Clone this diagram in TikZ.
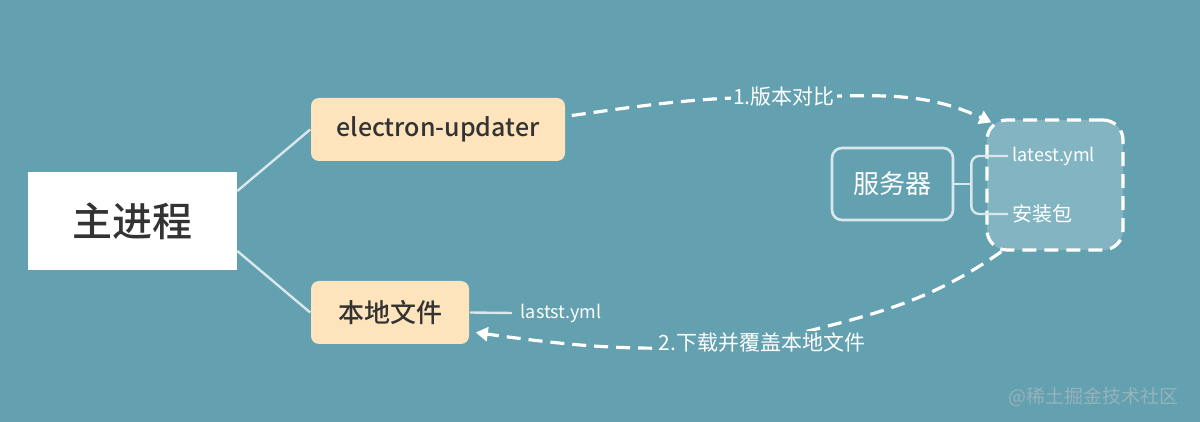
\documentclass[tikz,border=0pt]{standalone}
\usepackage{fontspec}
\setmainfont{Noto Sans CJK SC}
\newfontfamily\medium{Noto Sans CJK SC Medium}
\usetikzlibrary{arrows.meta}
\definecolor{bg}{RGB}{99,160,176}
\definecolor{peach}{RGB}{253,228,189}
\definecolor{ink}{RGB}{51,51,51}
\definecolor{pale}{RGB}{218,232,238}
\definecolor{boxfill}{RGB}{130,180,194}
\definecolor{mark}{RGB}{150,178,188}
\begin{document}
\begin{tikzpicture}[x=0.5pt, y=-0.5pt, thick,
    leaf/.style={rectangle, rounded corners=4pt, fill=peach, minimum height=31.5pt, text=ink},
    tag/.style={text=white, inner sep=2pt, anchor=west, font=\fontsize{9}{11}\selectfont},
    link/.style={draw=pale, line width=1.2pt},
    flow/.style={draw=white, line width=1.6pt, dash pattern=on 7pt off 4pt},
    step1/.style={text=white, fill=bg, inner sep=1pt, font=\fontsize{10.5}{12}\selectfont}]
  \fill[bg] (0,0) rectangle (1200,422);
  \useasboundingbox (0,0) rectangle (1200,422);

  \node[rectangle, fill=white, minimum width=104.5pt, minimum height=49pt, text=ink, font=\fontsize{20}{24}\selectfont\medium] (main) at (132,221) {主进程};
  \node[leaf, minimum width=127pt, font=\fontsize{12.5}{15}\selectfont\medium] (updater) at (438,129.5) {electron-updater};
  \node[leaf, minimum width=79pt, font=\fontsize{13}{16}\selectfont\medium] (local) at (390,312.5) {本地文件};
  \node[tag, inner sep=4pt] (lastst) at (512,313) {lastst.yml};

  \node[rectangle, rounded corners=10pt, fill=boxfill, flow, minimum width=68pt, minimum height=65pt] (box) at (1055,185) {};
  \node[rectangle, rounded corners=5pt, draw=pale, line width=1.3pt, minimum width=60.5pt, minimum height=36pt, text=white, font=\fontsize{13}{16}\selectfont] (server) at (892.5,184) {服务器};
  \node[tag] (yml) at (1008,156) {latest.yml};
  \node[tag, font=\fontsize{10}{12}\selectfont] (pkg) at (1008,214) {安装包};

  \draw[link] ([yshift=15pt]main.east) -- (updater.west);
  \draw[link] ([yshift=-15pt]main.east) -- (local.west);
  \draw[link] (local.east) -- (lastst.west);
  \draw[link] (server.east) -- ++(17,0) coordinate (fork);
  \draw[link, rounded corners=4pt] (yml.west) -| (fork) |- (pkg.west);

  \coordinate (c1) at (784,97);
  \coordinate (c2) at (762,343);
  \draw[flow] ([xshift=3pt, yshift=7pt]updater.east) to[out=8, in=180] (c1);
  \draw[flow, -{Triangle[length=6pt, width=7pt]}] (c1) to[out=0, in=155] ([xshift=3pt, yshift=-2pt]box.north west);
  \draw[flow] ([xshift=8pt]box.south west) to[out=215, in=15] (c2);
  \draw[flow, -{Triangle[length=6pt, width=7pt]}] (c2) to[out=185, in=-8] ([xshift=3pt, yshift=-10pt]local.east);

  \node[step1] (v1) at (c1) {1.版本对比};
  \node[step1] (v2) at (c2) {2.下载并覆盖本地文件};

  \node[text=mark, anchor=east, font=\fontsize{9.5}{11}\selectfont] (credit) at (1186,397) {@稀土掘金技术社区};
\end{tikzpicture}
\end{document}
